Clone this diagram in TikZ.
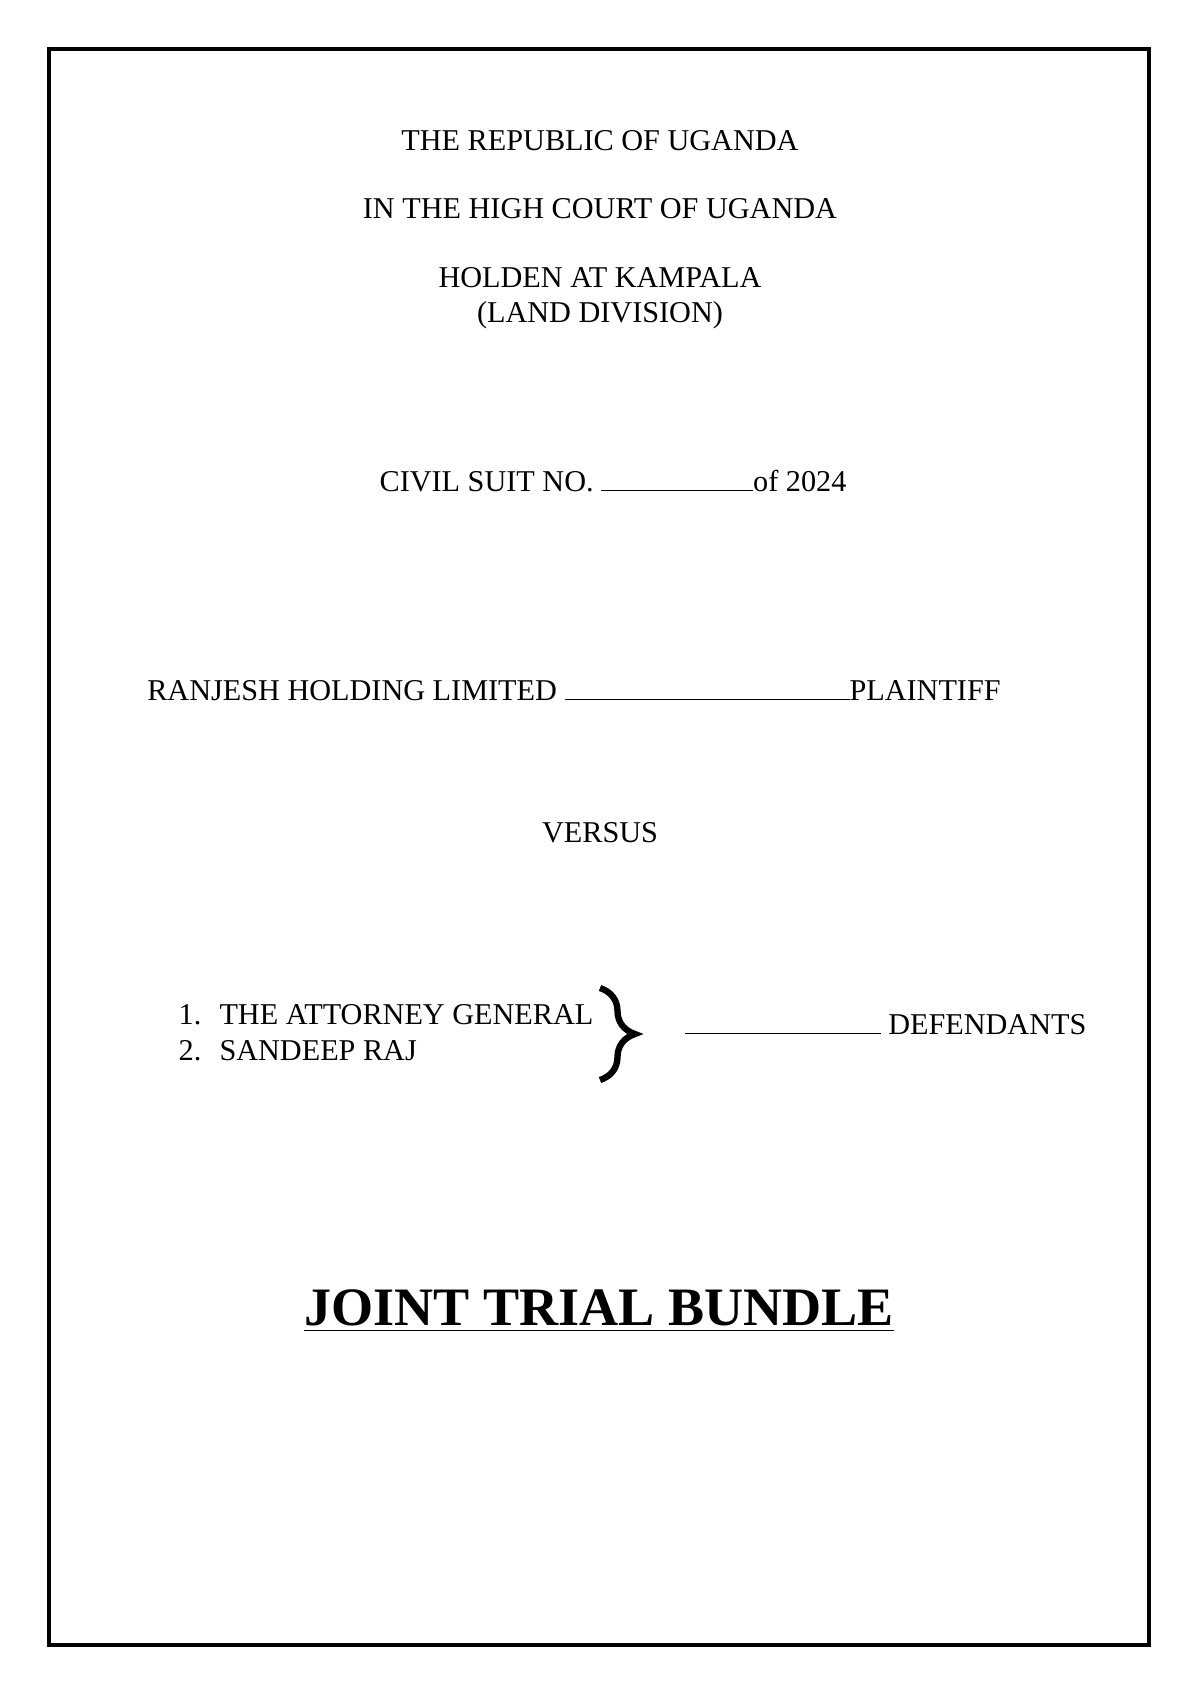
\documentclass[tikz,border=0pt]{standalone}
\usepackage{fontspec}
\setmainfont{Liberation Serif}
\usetikzlibrary{decorations.pathreplacing}
\begin{document}
\begin{tikzpicture}[
  txt/.style={inner sep=0pt, anchor=base, font=\fontsize{8.6pt}{10pt}\selectfont},
  txtl/.style={txt, anchor=base west}]
\useasboundingbox (0,0) rectangle (12,-16.96);
\draw[line width=1.1pt] (0.49,-0.49) rectangle (11.49,-16.45);
\node[txt] (t1) at (6.0,-1.5) {THE REPUBLIC OF UGANDA};
\node[txt] (t2) at (6.0,-2.18) {IN THE HIGH COURT OF UGANDA};
\node[txt] (t3) at (6.0,-2.87) {HOLDEN AT KAMPALA};
\node[txt] (t4) at (6.0,-3.22) {(LAND DIVISION)};
\node[txt] (cs) at (6.13,-4.91) {CIVIL SUIT NO. \rule{1.52cm}{0.4pt}of 2024};
\node[txt] (pl) at (5.74,-7.0) {RANJESH HOLDING LIMITED \rule{2.85cm}{0.4pt}PLAINTIFF};
\node[txt] (vs) at (6.0,-8.42) {VERSUS};
\node[txtl] (d1) at (1.78,-10.24) {1.\hspace{0.6em}THE ATTORNEY GENERAL};
\node[txtl] (d2) at (1.78,-10.6) {2.\hspace{0.6em}SANDEEP RAJ};
\draw[decorate, decoration={brace, amplitude=0.35cm}, line width=1.8pt] (6.0,-9.88) -- (6.0,-10.8);
\node[txtl] (df) at (6.84,-10.34) {\rule{1.96cm}{0.4pt} DEFENDANTS};
\node[inner sep=0pt, anchor=base, font=\fontsize{15.4pt}{18pt}\selectfont\bfseries] (jt) at (5.99,-13.25) {\underline{JOINT TRIAL BUNDLE}};
\end{tikzpicture}
\end{document}
